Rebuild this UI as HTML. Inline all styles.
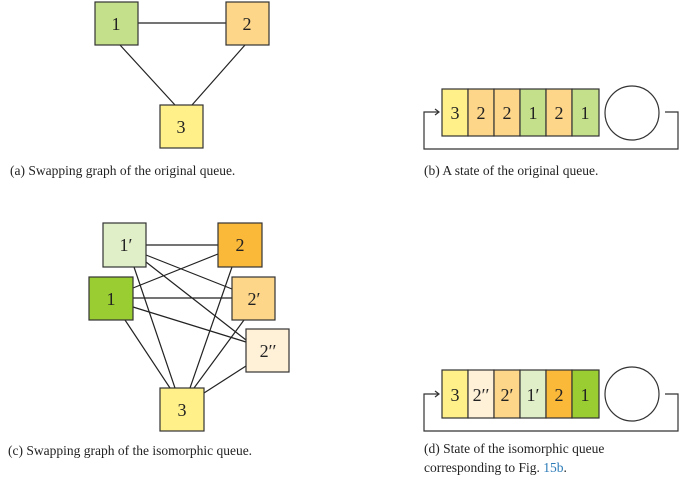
<!DOCTYPE html>
<html><head><meta charset="utf-8"><style>
html,body{margin:0;padding:0;background:#fff;}
svg{display:block;}
text{font-family:"Liberation Serif",serif;fill:#222;}
</style></head><body>
<svg width="685" height="480" viewBox="0 0 685 480" xmlns="http://www.w3.org/2000/svg">
<g stroke="#222" stroke-width="1.2" fill="none">
<!-- graph a edges -->
<line x1="138" y1="23" x2="226" y2="23"/>
<line x1="120" y1="45" x2="175" y2="105"/>
<line x1="245" y1="45" x2="192" y2="105"/>
<!-- graph c edges -->
<line x1="146" y1="245" x2="218" y2="245"/>
<line x1="146" y1="255" x2="232" y2="289"/>
<line x1="146" y1="262" x2="246" y2="340"/>
<line x1="134" y1="267" x2="175" y2="388"/>
<line x1="133" y1="288" x2="218" y2="254"/>
<line x1="133" y1="298" x2="232" y2="298"/>
<line x1="133" y1="307" x2="246" y2="342"/>
<line x1="125" y1="320" x2="170" y2="388"/>
<line x1="232" y1="267" x2="190" y2="388"/>
<line x1="244" y1="320" x2="194" y2="388"/>
<line x1="246" y1="366" x2="204" y2="393"/>
</g>
<g stroke="#333" stroke-width="1.2">
<rect x="95" y="2" width="43" height="43" fill="#c5e08a"/>
<rect x="226" y="2" width="43" height="43" fill="#fdd68a"/>
<rect x="160" y="105" width="43" height="43" fill="#fff08a"/>
<rect x="103" y="223" width="43" height="44" fill="#e0efc8"/>
<rect x="218" y="223" width="44" height="44" fill="#fbb93a"/>
<rect x="89" y="277" width="44" height="43" fill="#9acd32"/>
<rect x="232" y="277" width="43" height="43" fill="#fdd68a"/>
<rect x="246" y="329" width="43" height="43" fill="#fff0d8"/>
<rect x="160" y="388" width="44" height="43" fill="#fff08a"/>
</g>
<g font-size="18" text-anchor="middle">
<text x="116" y="30">1</text><text x="247" y="30">2</text><text x="181" y="133">3</text>
<text x="126" y="251">1′</text><text x="240" y="251">2</text><text x="111" y="305">1</text>
<text x="254" y="305">2′</text><text x="268" y="357">2′′</text><text x="182" y="416">3</text>
</g>
<!-- queue b -->
<g stroke="#333" stroke-width="1.2">
<rect x="442" y="89" width="26" height="47" fill="#fff08a"/>
<rect x="468" y="89" width="26" height="47" fill="#fdd68a"/>
<rect x="494" y="89" width="26" height="47" fill="#fdd68a"/>
<rect x="520" y="89" width="26" height="47" fill="#c5e08a"/>
<rect x="546" y="89" width="26" height="47" fill="#fdd68a"/>
<rect x="572" y="89" width="27" height="47" fill="#c5e08a"/>
<circle cx="632" cy="113" r="27" fill="#fff"/>
<polyline points="665,112 678,112 678,149 424,149 424,112 438,112" fill="none"/>
<polyline points="435,109 439,112 435,115" fill="none"/>
</g>
<g font-size="18" text-anchor="middle">
<text x="455" y="119">3</text><text x="481" y="119">2</text><text x="507" y="119">2</text>
<text x="533" y="119">1</text><text x="559" y="119">2</text><text x="585" y="119">1</text>
</g>
<!-- queue d -->
<g stroke="#333" stroke-width="1.2">
<rect x="442" y="370" width="26" height="48" fill="#fff08a"/>
<rect x="468" y="370" width="26" height="48" fill="#fff0d8"/>
<rect x="494" y="370" width="26" height="48" fill="#fdd68a"/>
<rect x="520" y="370" width="26" height="48" fill="#e0efc8"/>
<rect x="546" y="370" width="26" height="48" fill="#fbb93a"/>
<rect x="572" y="370" width="27" height="48" fill="#9acd32"/>
<circle cx="632" cy="394" r="27" fill="#fff"/>
<polyline points="665,394 678,394 678,431 424,431 424,394 438,394" fill="none"/>
<polyline points="435,391 439,394 435,397" fill="none"/>
</g>
<g font-size="18" text-anchor="middle">
<text x="455" y="401">3</text><text x="481" y="401">2′′</text><text x="507" y="401">2′</text>
<text x="533" y="401">1′</text><text x="559" y="401">2</text><text x="585" y="401">1</text>
</g>
<g font-size="13.5">
<text x="10" y="175">(a) Swapping graph of the original queue.</text>
<text x="424" y="175">(b) A state of the original queue.</text>
<text x="8" y="455">(c) Swapping graph of the isomorphic queue.</text>
<text x="424" y="453">(d) State of the isomorphic queue</text>
<text x="424" y="472">corresponding to Fig. <tspan fill="#2a7ab8">15b</tspan>.</text>
</g>
</svg>
</body></html>
